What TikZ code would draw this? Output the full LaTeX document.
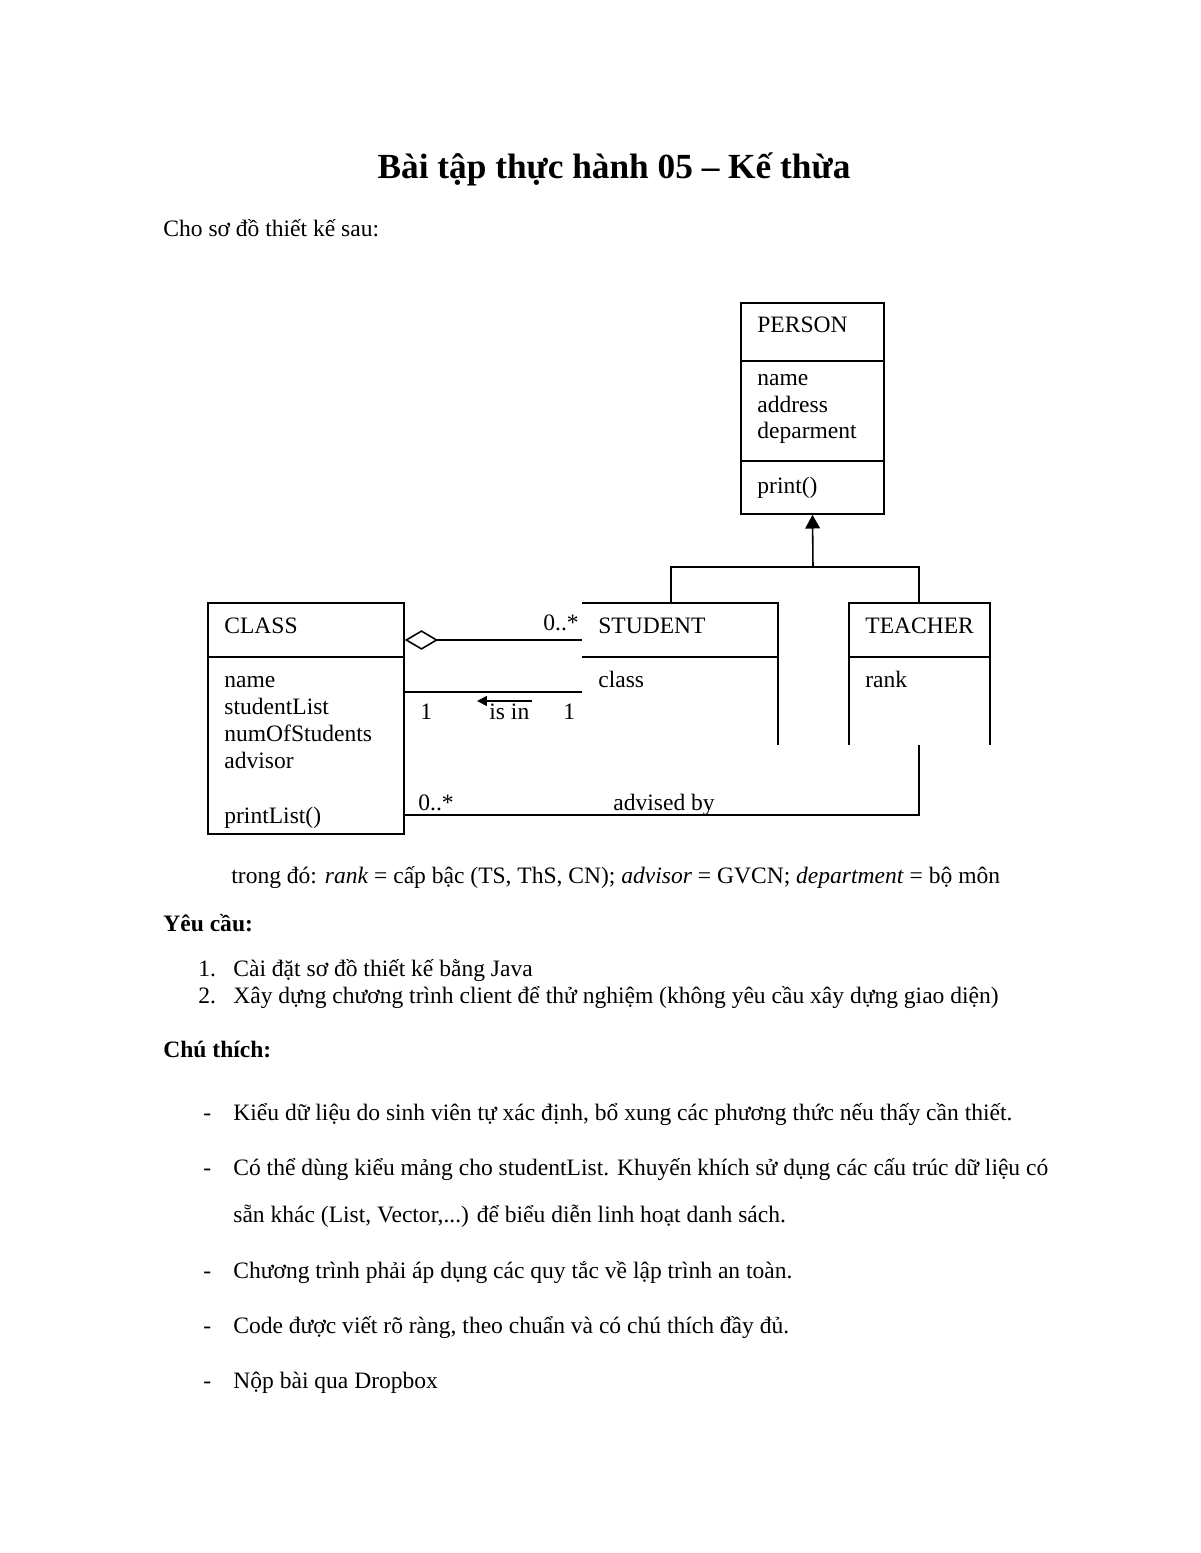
\documentclass[tikz,border=0pt]{standalone}
\usepackage{fontspec}
\setmainfont{Liberation Serif}
\usetikzlibrary{arrows.meta,positioning,fit}

\begin{document}
\begin{tikzpicture}[x=0.51pt, y=-0.51pt,
    umlbox/.style={draw=black, line width=0.8pt, inner sep=0pt},
    umlline/.style={draw=black, line width=0.8pt},
    umltext/.style={anchor=base west, inner sep=0pt, font=\fontsize{12}{14}\selectfont},
    bodytext/.style={anchor=base west, inner sep=0pt, font=\fontsize{12}{14}\selectfont},
    heading/.style={anchor=base west, inner sep=0pt, font=\bfseries\fontsize{12}{14}\selectfont},
    inherit/.style={umlline, -{Triangle[length=7pt, width=7.5pt]}},
    aggregate/.style={umlline, {Diamond[open, length=17pt, width=10pt]}-},
    navarrow/.style={line width=0.8pt, -{Triangle[length=5pt, width=5pt]}}
]
\useasboundingbox[fill=white] (0,0) rectangle (1200,1553);

% Title
\node[anchor=base, inner sep=0pt, font=\bfseries\fontsize{18}{21}\selectfont] (title) at (614,179) {Bài tập thực hành 05 – Kế thừa};
\node[bodytext] (intro) at (163,236) {Cho sơ đồ thiết kế sau:};

% Classes
\node[umlbox, fit={(741,303) (884,514)}] (person) {};
\draw[umlline] (741,361) -- (884,361);
\draw[umlline] (741,461) -- (884,461);
\node[umltext] (personname) at (757,332) {PERSON};
\node[umltext] (pname) at (757,385) {name};
\node[umltext] (paddress) at (757,412) {address};
\node[umltext] (pdept) at (757,438) {deparment};
\node[umltext] (pprint) at (757,493) {print()};

\node[umlbox, fit={(208,603) (404,834)}] (class) {};
\draw[umlline] (208,657) -- (404,657);
\node[umltext] (classname) at (224,633) {CLASS};
\node[umltext] (cname) at (224,687) {name};
\node[umltext] (clist) at (224,714) {studentList};
\node[umltext] (cnum) at (224,741) {numOfStudents};
\node[umltext] (cadvisor) at (224,768) {advisor};
\node[umltext] (cprint) at (224,823) {printList()};

\coordinate (student-nw) at (582,603);
\coordinate (student-ne) at (778,603);
\coordinate (student-se) at (778,745);
\draw[umlline] (student-nw) -- (student-ne) -- (student-se);
\draw[umlline] (582,657) -- (778,657);
\node[umltext] (studentname) at (598,633) {STUDENT};
\node[umltext] (sclass) at (598,687) {class};

\coordinate (teacher-nw) at (849,603);
\coordinate (teacher-ne) at (990,603);
\coordinate (teacher-sw) at (849,745);
\coordinate (teacher-se) at (990,745);
\draw[umlline] (teacher-sw) -- (teacher-nw) -- (teacher-ne) -- (teacher-se);
\draw[umlline] (849,657) -- (990,657);
\node[umltext] (teachername) at (865,633) {TEACHER};
\node[umltext] (trank) at (865,687) {rank};

% Inheritance
\coordinate (fork) at (813,567);
\coordinate (student-top) at (671,603);
\coordinate (teacher-top) at (919,603);
\draw[inherit] (fork) -- (person.south);
\draw[umlline] (student-top) |- (fork) -| (teacher-top);

% Associations
\coordinate (agg-end) at (582,640);
\draw[aggregate] (class.east |- agg-end) -- (agg-end);
\node[umltext] (aggmult) at (543,630) {0..*};

\coordinate (isin-end) at (582,692);
\draw[umlline] (class.east |- isin-end) -- (isin-end);
\node[umltext] (isin1) at (420,719) {1};
\node[umltext] (isin) at (489,719) {is in};
\node[umltext] (isin2) at (563,719) {1};
\coordinate (isin-a) at (532,701);
\coordinate (isin-b) at (477,701);
\draw[navarrow] (isin-a) -- (isin-b);

\coordinate (teacher-bot) at (919,745);
\draw[umlline] (class.east |- 0,815) -| (teacher-bot);
\node[umltext] (advmult) at (418,810) {0..*};
\node[umltext] (advby) at (613,810) {advised by};

% Notes
\node[bodytext] (note) at (231,883) {trong đó: \textit{rank} = cấp bậc (TS, ThS, CN); \textit{advisor} = GVCN; \textit{department} = bộ môn};
\node[heading] (req) at (163,931) {Yêu cầu:};
\node[bodytext] (num1) at (198,976) {1.};
\node[bodytext] (req1) at (233,976) {Cài đặt sơ đồ thiết kế bằng Java};
\node[bodytext] (num2) at (198,1003) {2.};
\node[bodytext] (req2) at (233,1003) {Xây dựng chương trình client để thử nghiệm (không yêu cầu xây dựng giao diện)};
\node[heading] (notes) at (163,1057) {Chú thích:};

\foreach \y/\txt [count=\i] in {
    1120/{Kiểu dữ liệu do sinh viên tự xác định, bổ xung các phương thức nếu thấy cần thiết.},
    1175/{Có thể dùng kiểu mảng cho studentList. Khuyến khích sử dụng các cấu trúc dữ liệu có},
    1278/{Chương trình phải áp dụng các quy tắc về lập trình an toàn.},
    1333/{Code được viết rõ ràng, theo chuẩn và có chú thích đầy đủ.},
    1388/{Nộp bài qua Dropbox}}
{
    \node[bodytext] (dash\i) at (203,\y) {-};
    \node[bodytext] (item\i) at (233,\y) {\txt};
}
\node[bodytext] (item2b) at (233,1222) {sẵn khác (List, Vector,...) để biểu diễn linh hoạt danh sách.};

\end{tikzpicture}
\end{document}
